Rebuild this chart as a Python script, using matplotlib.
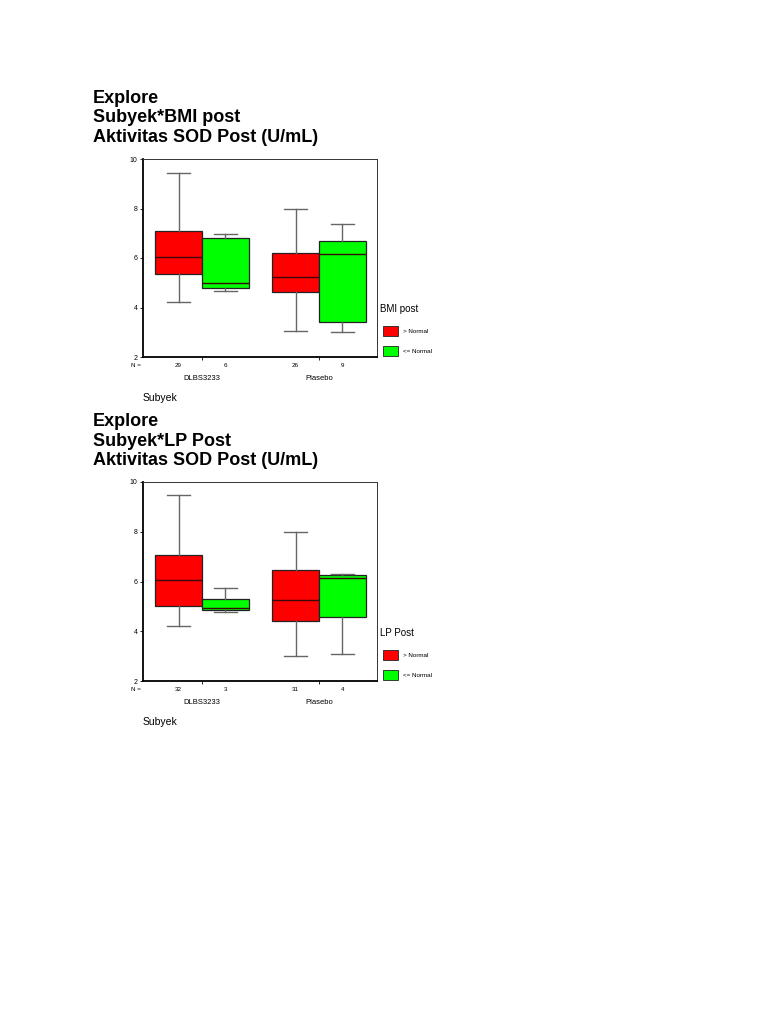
import matplotlib.pyplot as plt

plt.rcParams['font.family'] = ['Liberation Sans', 'DejaVu Sans']

groups = ['DLBS3233', 'Plasebo']
legend_labels = ['> Normal', '<= Normal']
box_colors = ['#ff0000', '#00ff00']

# chart 1: BMI post  (rows = > Normal, <= Normal ; columns = groups)
bmi_n = [[29, 26], [6, 9]]
bmi_whislo = [[4.22, 3.07], [4.68, 3.01]]
bmi_q1 = [[5.34, 4.64], [4.77, 3.42]]
bmi_med = [[6.06, 5.24], [4.97, 6.17]]
bmi_q3 = [[7.08, 6.20], [6.81, 6.69]]
bmi_whishi = [[9.43, 7.98], [6.98, 7.39]]

# chart 2: LP Post
lp_n = [[32, 31], [3, 4]]
lp_whislo = [[4.23, 3.02], [4.77, 3.10]]
lp_q1 = [[5.00, 4.42], [4.84, 4.59]]
lp_med = [[6.08, 5.26], [4.92, 6.13]]
lp_q3 = [[7.05, 6.45], [5.30, 6.28]]
lp_whishi = [[9.46, 8.00], [5.72, 6.32]]

yticks = [2, 4, 6, 8, 10]


def boxchart(ax, n, whislo, q1, med, q3, whishi, legend_title):
    for k in range(2):
        stats = []
        pos = []
        for g in range(len(groups)):
            stats.append({'whislo': whislo[k][g], 'q1': q1[k][g], 'med': med[k][g],
                          'q3': q3[k][g], 'whishi': whishi[k][g], 'fliers': []})
            pos.append(g + 1 + (k - 0.5) * 0.4)
        ax.bxp(stats, positions=pos, widths=0.4, patch_artist=True, showfliers=False,
               boxprops=dict(facecolor=box_colors[k], edgecolor='#222222', linewidth=0.9),
               medianprops=dict(color='#3a0a0a', linewidth=1.0),
               whiskerprops=dict(color='#666666', linewidth=1.0),
               capprops=dict(color='#666666', linewidth=1.0),
               capwidths=0.2)
    ax.set_xlim(0.496, 2.496)
    ax.set_ylim(2, 10)
    ax.set_yticks(yticks)
    ax.set_yticklabels([str(t) for t in yticks], fontsize=5)
    ax.tick_params(axis='y', length=2, width=0.6, pad=2)
    ax.set_xticks([1, 2])
    ax.set_xticklabels([])
    ax.tick_params(axis='x', length=2, width=0.6)
    for s in ['left', 'bottom']:
        ax.spines[s].set_linewidth(1.3)
        ax.spines[s].set_color('black')
    for s in ['top', 'right']:
        ax.spines[s].set_linewidth(0.7)
        ax.spines[s].set_color('#333333')
    tr = ax.get_xaxis_transform()
    ax.text(0.475, -0.045, 'N =', transform=tr, fontsize=4.5, ha='right', va='center')
    for g in range(len(groups)):
        for k in range(2):
            ax.text(g + 1 + (k - 0.5) * 0.4, -0.045, str(n[k][g]), transform=tr,
                    fontsize=4.5, ha='center', va='center')
        ax.text(g + 1, -0.11, groups[g], transform=tr, fontsize=5.5, ha='center', va='center')
    ax.text(0.496, -0.205, 'Subyek', transform=tr, fontsize=7.5, ha='left', va='center')
    # legend drawn beside the plot
    ax.text(1.012, 0.24, legend_title, transform=ax.transAxes, fontsize=7, ha='left', va='center')
    for k in range(2):
        y0 = 0.13 - k * 0.1
        ax.add_patch(plt.Rectangle((1.025, y0 - 0.025), 0.065, 0.05, transform=ax.transAxes,
                                   facecolor=box_colors[k], edgecolor='#222222', linewidth=0.6,
                                   clip_on=False))
        ax.text(1.11, y0, legend_labels[k], transform=ax.transAxes, fontsize=4.5,
                ha='left', va='center')


fig = plt.figure(figsize=(7.68, 10.24), dpi=100)

titles1 = ['Explore', 'Subyek*BMI post', 'Aktivitas SOD Post (U/mL)']
titles2 = ['Explore', 'Subyek*LP Post', 'Aktivitas SOD Post (U/mL)']
for i, t in enumerate(titles1):
    fig.text(93 / 768, 1 - (103 + 19.5 * i) / 1024, t, fontsize=13, fontweight='bold',
             ha='left', va='baseline')
for i, t in enumerate(titles2):
    fig.text(93 / 768, 1 - (426 + 19.5 * i) / 1024, t, fontsize=13, fontweight='bold',
             ha='left', va='baseline')

ax1 = fig.add_axes([143 / 768, 1 - 357 / 1024, 234 / 768, 198 / 1024])
boxchart(ax1, bmi_n, bmi_whislo, bmi_q1, bmi_med, bmi_q3, bmi_whishi, 'BMI post')

ax2 = fig.add_axes([143 / 768, 1 - 681 / 1024, 234 / 768, 199 / 1024])
boxchart(ax2, lp_n, lp_whislo, lp_q1, lp_med, lp_q3, lp_whishi, 'LP Post')

fig.savefig('out.png', dpi=100)
